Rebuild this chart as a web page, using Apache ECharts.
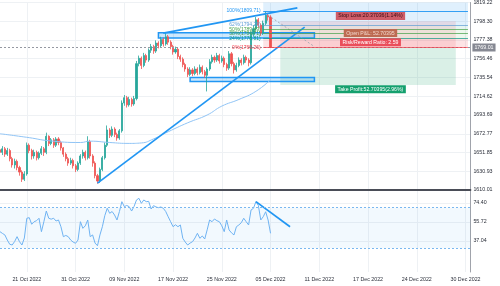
<!DOCTYPE html>
<html><head><meta charset="utf-8">
<script src="https://cdn.jsdelivr.net/npm/echarts@6/dist/echarts.min.js"></script>
<style>html,body{margin:0;padding:0;background:#fff}#c{width:500px;height:286px}</style>
</head><body><div id="c"></div><script>
// ---------- data ----------
const barCount = 194;
const dateTickIndex = [11,31,51,71,91,111,131,151,171,191];
const dateTickLabels = ['21 Oct 2022','31 Oct 2022','09 Nov 2022','17 Nov 2022','25 Nov 2022','05 Dec 2022','11 Dec 2022','17 Dec 2022','24 Dec 2022','30 Dec 2022'];
const priceTicks = [1610.01,1630.93,1651.85,1672.77,1693.69,1714.62,1735.54,1756.46,1777.38,1798.30,1819.22];
const rsiTicks = [37.04,55.72,74.40];
// [open, close, low, high]
const candles = [
[1655,1652,1648,1658],[1652,1656,1649,1659],[1656,1650,1647,1658],[1650,1654,1648,1657],[1654,1645,1642,1656],
[1645,1638,1635,1647],[1638,1642,1634,1645],[1642,1635,1632,1644],[1635,1630,1626,1637],[1630,1622,1619,1632],
[1622,1628,1620,1631],[1628,1660,1626,1663],[1660,1654,1651,1662],[1654,1648,1644,1656],[1648,1652,1645,1655],
[1652,1646,1643,1654],[1646,1651,1644,1653],[1651,1656,1649,1659],[1656,1652,1648,1658],[1652,1670,1650,1674],
[1670,1662,1659,1671],[1662,1666,1660,1668],[1666,1660,1657,1668],[1660,1667,1658,1669],[1667,1663,1660,1669],
[1663,1657,1654,1665],[1657,1650,1647,1658],[1650,1645,1642,1652],[1645,1640,1637,1647],[1640,1643,1638,1646],
[1643,1637,1634,1645],[1637,1633,1630,1639],[1633,1640,1631,1642],[1640,1648,1638,1650],[1648,1652,1645,1655],
[1652,1646,1643,1654],[1646,1664,1644,1670],[1664,1648,1645,1666],[1648,1640,1636,1650],[1640,1626,1623,1642],
[1626,1620,1617,1628],[1620,1633,1618,1635],[1633,1646,1631,1648],[1646,1660,1644,1663],[1660,1677,1658,1682],
[1677,1671,1668,1679],[1671,1678,1669,1681],[1678,1672,1669,1680],[1672,1668,1665,1674],[1668,1676,1666,1678],
[1676,1707,1674,1710],[1707,1713,1704,1716],[1713,1705,1702,1715],[1705,1711,1703,1714],[1711,1706,1703,1713],
[1706,1712,1704,1715],[1712,1751,1710,1754],[1751,1757,1748,1760],[1757,1749,1745,1759],[1749,1760,1747,1763],
[1760,1755,1752,1762],[1755,1766,1753,1768],[1766,1770,1763,1773],[1770,1765,1762,1772],[1765,1774,1763,1777],
[1774,1771,1768,1776],[1771,1778,1769,1781],[1778,1773,1770,1780],[1773,1781,1771,1785],[1781,1775,1772,1783],
[1775,1770,1767,1777],[1770,1764,1761,1772],[1764,1767,1762,1770],[1767,1759,1756,1769],[1759,1756,1753,1761],
[1756,1750,1747,1758],[1750,1745,1742,1752],[1745,1739,1736,1747],[1739,1744,1737,1747],[1744,1740,1737,1746],
[1740,1745,1738,1748],[1745,1741,1738,1747],[1741,1747,1739,1750],[1747,1742,1739,1749],[1742,1738,1735,1744],
[1738,1745,1720,1747],[1745,1753,1743,1756],[1753,1758,1751,1761],[1758,1755,1752,1760],[1755,1760,1753,1763],
[1760,1754,1751,1762],[1754,1757,1752,1760],[1757,1750,1747,1759],[1750,1746,1743,1752],[1746,1762,1744,1765],
[1762,1751,1748,1764],[1751,1744,1740,1753],[1744,1749,1742,1752],[1749,1755,1747,1758],[1755,1752,1749,1757],
[1752,1758,1750,1761],[1758,1755,1752,1760],[1755,1752,1748,1757],[1752,1784,1750,1787],[1784,1790,1781,1794],
[1790,1800,1788,1803],[1800,1794,1791,1802],[1794,1785,1782,1796],[1785,1796,1783,1799],[1796,1805,1794,1809.71],
[1805,1803,1799,1807],[1803,1769.01,1769.01,1805]
];
const maPoints = [[0,1672.8],[12,1668.4],[20,1665],[33,1663],[37,1664.5],[45,1663],[53,1662],[58,1662.5],[63,1667],[69,1675],[77,1685],[85,1693.7],[91,1703.6],[98,1711],[105,1720.1],[111,1733]];
const rsiValues = [46.2,44.5,43,38,33.8,33.1,36.5,41.3,36.4,33.1,40,59.4,60,53.5,56,57,59.4,46.2,56,66.5,
59.4,58.5,59.4,56.7,57.7,51.1,41.3,42.5,41.3,38,36,34.8,38,56,49.5,52,57.7,41.3,43,35,
32.4,43,51.1,62,69.2,64.3,66,62.6,57.7,66,75.7,70.8,72,70.8,66.5,71,77.4,79,74.1,77.4,
75.7,76,68.5,71.8,70.5,69.8,70.5,69.2,66,60.9,56,51.1,53,51.1,52.8,39.7,36,33.1,35,36.4,
40,44.6,39.7,42,39,48,57.7,56,58.7,57,56,52,46.2,57.7,47.9,45,43,51.1,52.8,55,
59.4,56,52.8,67.5,69.2,75.7,72,57.7,60.9,65.8,57.7,44.6];
const lastPrice = 1769.01;
const trendLineA = [[40,1617.7],[125,1791.7]];
const trendLineB = [[67,1785],[122,1813.2]];
const projectionLine = [[110,1805],[129,1770]];
const rsiTrendLine = [[105,75.7],[119,51.1]];
const boxes = [[65,129,1785.6,1779.6],[78,129,1735.5,1731.1]];
const fibStart = 108, fibEnd = 192;
const fibLevels = [1809.71,1794.26,1789.49,1784.71,1778.81,1769.26];
const fibLabels = ['100%(1809.71)','62%(1794.26)','50%(1789.49)','38%(1784.71)','24%(1778.81)','0%(1769.26)'];
const posStart = 115, posEnd = 187;
const posStop = 1798.3, posEntry = 1769.26, posTarget = 1727.3;
const posTexts = ['Stop Loss:20.37036(1.14%)','Open P&L: 52.70395','Risk/Reward Ratio: 2.59','Take Profit:52.70395(2.96%)'];
const posTextPrices = [1804.2,1785.1,1774.8,1722.3];
const posTextIndex = 152;
const rsiLow = 30, rsiHigh = 70;

// ---------- chart ----------
const categories = Array.from({length: barCount}, (_, i) => String(i));
const tickSet = new Set(dateTickIndex);
const FONT = 'Liberation Sans, Arial, sans-serif';
const fibColors = ['#2196f3','#5b9bd5','#43a047','#43a047','#089981','#f23645'];
const fibFills = ['rgba(33,150,243,0.14)','rgba(8,153,129,0.10)','rgba(76,175,80,0.10)','rgba(76,175,80,0.10)','rgba(242,54,69,0.14)'];

const markAreas = [];
markAreas.push([{coord:[fibStart, priceTicks[priceTicks.length-1]], itemStyle:{color:fibFills[0]}},{coord:[fibEnd, fibLevels[1]]}]);
for (let k = 1; k < fibLevels.length - 1; k++) {
  markAreas.push([{coord:[fibStart, fibLevels[k]], itemStyle:{color:fibFills[k]}},{coord:[fibEnd, fibLevels[k+1]]}]);
}
markAreas.push([{coord:[posStart, posStop], itemStyle:{color:'rgba(242,54,69,0.12)'}},{coord:[posEnd, posEntry]}]);
markAreas.push([{coord:[posStart, posEntry], itemStyle:{color:'rgba(38,166,110,0.17)'}},{coord:[posEnd, posTarget]}]);
boxes.forEach(b => markAreas.push([{coord:[b[0], b[2]], itemStyle:{color:'rgba(33,150,243,0.22)', borderColor:'#2196f3', borderWidth:1.5}},{coord:[b[1], b[3]]}]));

const markLines = [{yAxis:lastPrice, lineStyle:{color:'#9598a1', type:[2,2], width:1},
  label:{show:true, position:'end', distance:2, formatter: lastPrice.toFixed(2), backgroundColor:'#868993', color:'#fff', padding:[1.5,2], fontSize:5.3, fontFamily:FONT}}];
fibLevels.forEach((lv, k) => markLines.push([{coord:[fibStart, lv], lineStyle:{color:fibColors[k], width:1, type:'solid', opacity: k===0?0.9:0.7}, label:{show:false}},{coord:[fibEnd, lv]}]));

const markPoints = [];
fibLevels.forEach((lv, k) => markPoints.push({coord:[fibStart, lv], label:{show:true, position:'left', distance:2, formatter: fibLabels[k], color: fibColors[k], fontSize:5, fontFamily:FONT}}));
const posBg = ['#cf5d69','#bd6b52','#ea4f5b','#14a06e'];
const posFg = ['#3b0c12','#f3d9cf','#ffffff','#ffffff'];
posTexts.forEach((t, k) => markPoints.push({coord:[posTextIndex, posTextPrices[k]], label:{show:true, position:'inside', formatter:t, backgroundColor:posBg[k], color:posFg[k], padding:[1.5,2.5], fontSize:5.2, fontFamily:FONT}}));

const option = {
  animation:false,
  backgroundColor:'#ffffff',
  grid:[{left:0, right:29.6, top:0, height:190},{left:0, right:29.6, top:191, height:81}],
  xAxis:[
    {type:'category', gridIndex:0, data:categories, boundaryGap:false,
     axisLine:{show:true, onZero:false, lineStyle:{color:'#4a4d57', width:2}},
     axisTick:{show:false}, axisLabel:{show:false},
     splitLine:{show:true, interval:(i)=>tickSet.has(i), lineStyle:{color:'#eef1f4', width:1}}},
    {type:'category', gridIndex:1, data:categories, boundaryGap:false,
     axisLine:{show:false}, axisTick:{show:false},
     axisLabel:{interval:(i)=>tickSet.has(i), formatter:(v)=>dateTickLabels[dateTickIndex.indexOf(+v)], fontSize:5.3, color:'#2a2e39', margin:5, fontFamily:FONT},
     splitLine:{show:true, interval:(i)=>tickSet.has(i), lineStyle:{color:'#eef1f4', width:1}}}
  ],
  yAxis:[
    {type:'value', gridIndex:0, position:'right', min:priceTicks[0], max:priceTicks[priceTicks.length-1],
     axisLine:{show:true, lineStyle:{color:'#a0a3ab', width:1}},
     axisTick:{show:false, customValues:priceTicks},
     axisLabel:{customValues:priceTicks, formatter:(v)=>v.toFixed(2), fontSize:5.3, color:'#2a2e39', margin:3, fontFamily:FONT},
     splitLine:{show:true, lineStyle:{color:'#eef1f4', width:1}}},
    {type:'value', gridIndex:1, position:'right', min:6.56, max:86.2,
     axisLine:{show:true, lineStyle:{color:'#a0a3ab', width:1}},
     axisTick:{show:false, customValues:rsiTicks},
     axisLabel:{customValues:rsiTicks, formatter:(v)=>v.toFixed(2), fontSize:5.3, color:'#2a2e39', margin:3, fontFamily:FONT},
     splitLine:{show:true, lineStyle:{color:'#eef1f4', width:1}}}
  ],
  series:[
    {type:'candlestick', xAxisIndex:0, yAxisIndex:0, data:candles, barWidth:1.6,
     itemStyle:{color:'#26a69a', color0:'#ef5350', borderColor:'#26a69a', borderColor0:'#ef5350', borderWidth:0.8},
     markArea:{silent:true, data:markAreas},
     markLine:{silent:true, symbol:['none','none'], data:markLines},
     markPoint:{silent:true, symbol:'rect', symbolSize:1, itemStyle:{color:'rgba(0,0,0,0)'}, data:markPoints}},
    {type:'line', xAxisIndex:0, yAxisIndex:0, data:maPoints, smooth:true, showSymbol:false, z:3,
     lineStyle:{color:'#90c4f5', width:1}},
    {type:'line', xAxisIndex:0, yAxisIndex:0, data:trendLineA, showSymbol:false, z:4, lineStyle:{color:'#2196f3', width:1.7}},
    {type:'line', xAxisIndex:0, yAxisIndex:0, data:trendLineB, showSymbol:false, z:4, lineStyle:{color:'#2196f3', width:1.7}},
    {type:'line', xAxisIndex:0, yAxisIndex:0, data:projectionLine, showSymbol:false, z:4, lineStyle:{color:'#a8abb3', width:1, type:[2,2]}},
    {type:'line', xAxisIndex:1, yAxisIndex:1, data:rsiValues, showSymbol:false, z:3,
     lineStyle:{color:'#6fb3f2', width:1},
     markArea:{silent:true, itemStyle:{color:'rgba(33,150,243,0.06)'}, data:[[{yAxis:rsiLow},{yAxis:rsiHigh}]]},
     markLine:{silent:true, symbol:['none','none'], label:{show:false}, lineStyle:{color:'#7ab8f0', type:[2,2], width:1}, data:[{yAxis:rsiLow},{yAxis:rsiHigh}]}},
    {type:'line', xAxisIndex:1, yAxisIndex:1, data:rsiTrendLine, showSymbol:false, z:4, lineStyle:{color:'#2196f3', width:1.7}}
  ]
};
const chart = echarts.init(document.getElementById('c'));
chart.setOption(option);
</script></body></html>
